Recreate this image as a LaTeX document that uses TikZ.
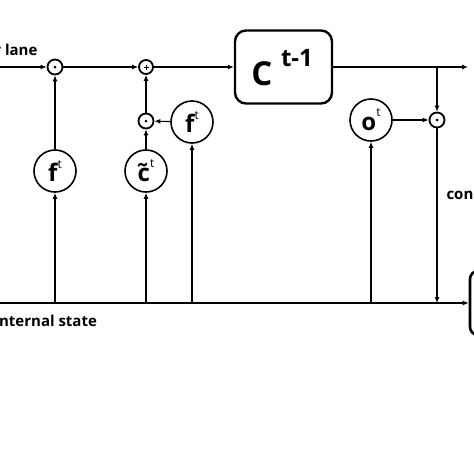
\documentclass[tikz,border=0pt]{standalone}
\usepackage{fontspec}
\setmainfont{Open Sans}
\usetikzlibrary{arrows.meta}

\tikzset{
  gate/.style={draw, circle, line width=1.6pt, minimum size=42pt, inner sep=0pt, font=\fontsize{24}{24}\selectfont\bfseries},
  opnode/.style={draw, circle, line width=1.8pt, minimum size=15pt, inner sep=0pt},
  hadamard/.style={opnode, path picture={\fill (path picture bounding box.center) circle (1.5pt);}},
  addnode/.style={opnode, minimum size=14pt, path picture={
      \draw[line width=0.8pt] ([xshift=-2.5pt]path picture bounding box.center) -- ([xshift=2.5pt]path picture bounding box.center);
      \draw[line width=0.8pt] ([yshift=-2.5pt]path picture bounding box.center) -- ([yshift=2.5pt]path picture bounding box.center);}},
  flow/.style={line width=1.1pt, -{Latex[length=6pt,width=5pt]}},
  lbl/.style={font=\fontsize{15}{15}\selectfont\bfseries},
}
\newcommand{\sups}[1]{\raisebox{1.05ex}{\fontsize{12}{12}\selectfont\mdseries #1}}

\begin{document}
\begin{tikzpicture}[x=1pt,y=-1pt]

\useasboundingbox (0,0) rectangle (474,474);

% memory lane
\coordinate (inL) at (-2,67);
\node[hadamard] (m1) at (55,67) {};
\node[addnode] (a1) at (146,67) {};
\node[draw, rounded corners=11pt, line width=2.4pt, minimum width=97pt, minimum height=73pt] (cbox) at (283.5,67) {};
\node[font=\fontsize{33}{33}\selectfont\bfseries] (cc) at (262,74) {C};
\node[font=\fontsize{24}{24}\selectfont\bfseries] (ct) at (297,58) {t-1};
\coordinate (outR) at (468,67);
\coordinate (br) at (437,67);
\node[hadamard] (m3) at (437,120) {};

% gates
\node[gate] (f1) at (55,171) {f\sups{t}};
\node[gate] (cn) at (146,171) {\~{c}\sups{t}};
\node[hadamard] (m2) at (146,121) {};
\node[gate] (f2) at (192,122) {f\sups{t}};
\node[gate] (o1) at (371,120) {o\sups{t}};

% internal state
\coordinate (inB) at (-2,303);
\node[draw, rounded corners=8pt, line width=2.6pt, minimum width=44pt, minimum height=64pt] (rbox) at (492,303) {};
\coordinate (bd) at (437,303);

\draw[flow] (inL) -- (m1);
\draw[flow] (m1) -- (a1);
\draw[flow] (a1) -- (cbox);
\draw[flow] (cbox) -- (outR);
\draw[flow] (br) -- (m3);
\draw[flow] (o1) -- (m3);
\draw[flow] (m3) -- (bd);

\draw[flow] (f1) -- (m1);
\draw[flow] (cn) -- (m2);
\draw[flow] (m2) -- (a1);
\draw[flow] (f2) -- (m2);

\draw[flow] (inB) -- (rbox);
\draw[flow] (f1 |- inB) -- (f1);
\draw[flow] (cn |- inB) -- (cn);
\draw[flow] (f2 |- inB) -- (f2);
\draw[flow] (o1 |- inB) -- (o1);

\node[lbl, anchor=east] (lmem) at (41,52) {y lane};
\node[lbl, anchor=west] (lint) at (-9,321) {internal state};
\node[lbl, anchor=west] (lcon) at (443,195) {con};

\end{tikzpicture}
\end{document}
